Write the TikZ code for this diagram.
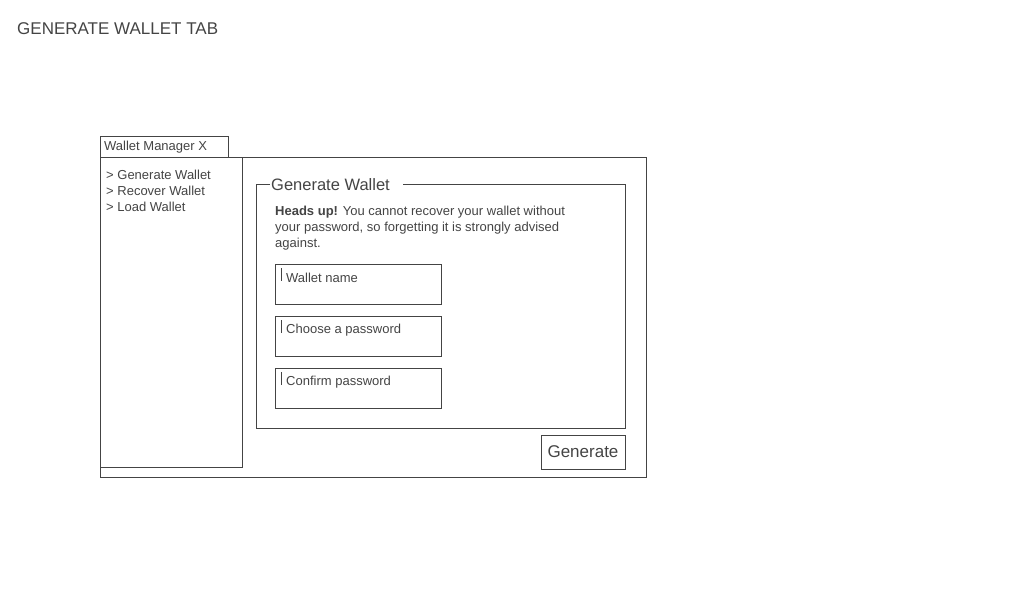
\documentclass[tikz,border=0pt]{standalone}
\usepackage{fontspec}
\setmainfont{Liberation Sans}
\definecolor{ink}{HTML}{444444}
\begin{document}
\begin{tikzpicture}[x=1pt,y=-1pt,
  box/.style={draw=ink,line width=0.8pt},
  txt/.style={text=ink,anchor=west,inner sep=0pt},
  inbox/.style={draw=ink,line width=0.8pt}]
\useasboundingbox (0,0) rectangle (1024,600);
\node[txt,font=\fontsize{17}{20}\selectfont] (title) at (17,29) {GENERATE WALLET TAB};
\draw[box] (100,136) rectangle (228,157);
\node[txt,font=\fontsize{13}{15}\selectfont] (tab) at (104,147.5) {Wallet Manager X};
\draw[box] (100,157) rectangle (646,477);
\draw[box] (100,157) rectangle (242,467);
\node[txt,font=\fontsize{13}{15}\selectfont] (m1) at (106,175) {> Generate Wallet};
\node[txt,font=\fontsize{13}{15}\selectfont] (m2) at (106,191) {> Recover Wallet};
\node[txt,font=\fontsize{13}{15}\selectfont] (m3) at (106,207) {> Load Wallet};
\draw[box] (270,184) -- (256,184) -- (256,428) -- (625,428) -- (625,184) -- (403,184);
\node[txt,font=\fontsize{16.5}{19}\selectfont] (legend) at (271,185) {Generate Wallet};
\node[txt,anchor=north west,align=left,font=\fontsize{13}{16}\selectfont] (para) at (275,206)
  {\textbf{Heads up!} You cannot recover your wallet without\\your password, so forgetting it is strongly advised\\against.};
\foreach \y/\t/\n in {264/Wallet name/a,316/Choose a password/b,368/Confirm password/c}{
  \draw[inbox] (275,\y) rectangle (441,\y+40);
  \draw[ink,line width=1pt] (281,\y+4) -- (281,\y+17);
  \node[txt,font=\fontsize{13}{15}\selectfont] (in\n) at (286,\y+14) {\t};
}
\draw[box] (541,435) rectangle (625,469);
\node[text=ink,inner sep=0pt,font=\fontsize{17}{20}\selectfont] (btn) at (583,452) {Generate};
\end{tikzpicture}
\end{document}
